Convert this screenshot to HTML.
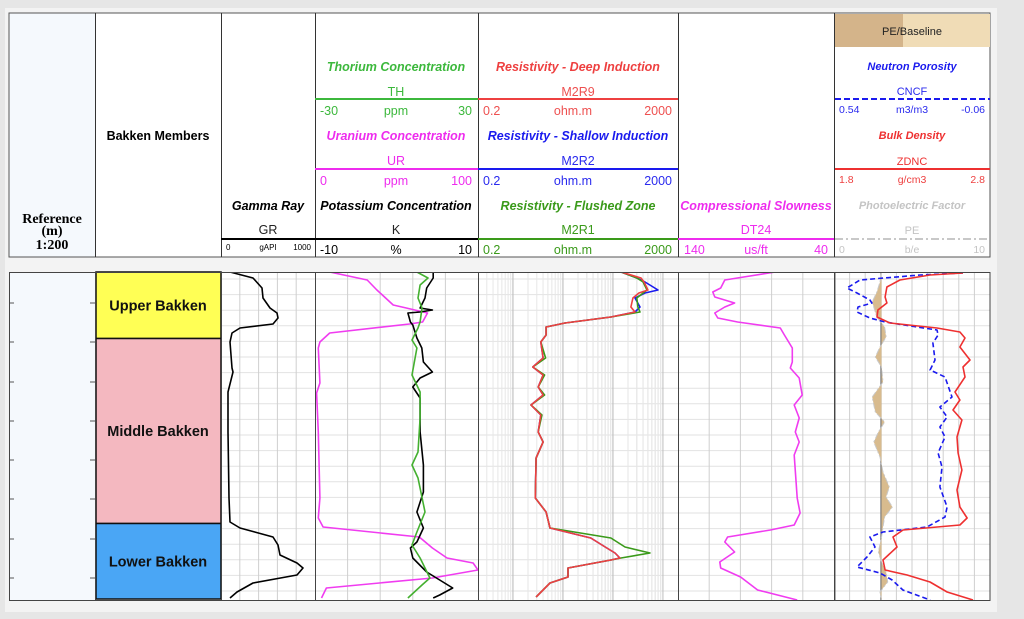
<!DOCTYPE html>
<html><head><meta charset="utf-8">
<style>
html,body{margin:0;padding:0;background:#e6e6e6;}
svg{display:block;font-family:"Liberation Sans",sans-serif;}
.t{font-weight:bold;font-style:italic;font-size:12.5px;text-anchor:middle;}
.m{font-size:12.5px;text-anchor:middle;}
.s{font-size:12.5px;}
</style></head><body>
<svg id="log" width="1024" height="619" viewBox="0 0 1024 619" xmlns="http://www.w3.org/2000/svg">
<rect x="5" y="8" width="992" height="604" fill="#f3f3f3"/>
<!-- header -->
<g>
<rect x="9" y="13" width="981" height="244" fill="#fff" stroke="#555" stroke-width="1"/>
<rect x="9.5" y="13.5" width="86" height="243" fill="#f5f9fd"/>
<g stroke="#333" stroke-width="1">
<line x1="95.5" y1="13" x2="95.5" y2="257"/><line x1="221.5" y1="13" x2="221.5" y2="257"/>
<line x1="315.5" y1="13" x2="315.5" y2="257"/><line x1="478.5" y1="13" x2="478.5" y2="257"/>
<line x1="678.5" y1="13" x2="678.5" y2="257"/><line x1="834.5" y1="13" x2="834.5" y2="257"/>
</g>
<text x="52" y="223" font-family="Liberation Serif,serif" font-weight="bold" font-size="14" text-anchor="middle">Reference</text>
<text x="52" y="235" font-family="Liberation Serif,serif" font-weight="bold" font-size="14" text-anchor="middle">(m)</text>
<text x="52" y="249" font-family="Liberation Serif,serif" font-weight="bold" font-size="14" text-anchor="middle">1:200</text>
<text x="158" y="140" font-weight="bold" font-size="12.5" text-anchor="middle">Bakken Members</text>
<!-- GR -->
<text class="t" x="268" y="210">Gamma Ray</text>
<text class="m" x="268" y="234" fill="#222">GR</text>
<line x1="221" y1="239" x2="315" y2="239" stroke="#000" stroke-width="2"/>
<g font-size="8" fill="#000"><text x="226" y="250">0</text><text x="268" y="250" text-anchor="middle">gAPI</text><text x="311" y="250" text-anchor="end">1000</text></g>
<!-- spectral -->
<text class="t" x="396" y="71" fill="#3cb83c">Thorium Concentration</text>
<text class="m" x="396" y="96" fill="#3cb83c">TH</text>
<line x1="315" y1="99" x2="478" y2="99" stroke="#3cb83c" stroke-width="2"/>
<g class="s" fill="#3cb83c"><text x="320" y="115">-30</text><text x="396" y="115" text-anchor="middle">ppm</text><text x="472" y="115" text-anchor="end">30</text></g>
<text class="t" x="396" y="140" fill="#ee2cee">Uranium Concentration</text>
<text class="m" x="396" y="165" fill="#ee2cee">UR</text>
<line x1="315" y1="169" x2="478" y2="169" stroke="#ee2cee" stroke-width="2"/>
<g class="s" fill="#ee2cee"><text x="320" y="185">0</text><text x="396" y="185" text-anchor="middle">ppm</text><text x="472" y="185" text-anchor="end">100</text></g>
<text class="t" x="396" y="210" fill="#000">Potassium Concentration</text>
<text class="m" x="396" y="234" fill="#222">K</text>
<line x1="315" y1="239" x2="478" y2="239" stroke="#000" stroke-width="2"/>
<g class="s" fill="#000"><text x="320" y="254">-10</text><text x="396" y="254" text-anchor="middle">%</text><text x="472" y="254" text-anchor="end">10</text></g>
<!-- resistivity -->
<text class="t" x="578" y="71" fill="#ee4040">Resistivity - Deep Induction</text>
<text class="m" x="578" y="96" fill="#ee5050">M2R9</text>
<line x1="478" y1="99" x2="678" y2="99" stroke="#ee4040" stroke-width="2"/>
<g class="s" fill="#ee5050"><text x="483" y="115">0.2</text><text x="573" y="115" text-anchor="middle">ohm.m</text><text x="672" y="115" text-anchor="end">2000</text></g>
<text class="t" x="578" y="140" fill="#1a1aee">Resistivity - Shallow Induction</text>
<text class="m" x="578" y="165" fill="#2a2aee">M2R2</text>
<line x1="478" y1="169" x2="678" y2="169" stroke="#1a1aee" stroke-width="2"/>
<g class="s" fill="#2a2aee"><text x="483" y="185">0.2</text><text x="573" y="185" text-anchor="middle">ohm.m</text><text x="672" y="185" text-anchor="end">2000</text></g>
<text class="t" x="578" y="210" fill="#3a9a1a">Resistivity - Flushed Zone</text>
<text class="m" x="578" y="234" fill="#3a9a1a">M2R1</text>
<line x1="478" y1="239" x2="678" y2="239" stroke="#3a9a1a" stroke-width="2"/>
<g class="s" fill="#3a9a1a"><text x="483" y="254">0.2</text><text x="573" y="254" text-anchor="middle">ohm.m</text><text x="672" y="254" text-anchor="end">2000</text></g>
<!-- DT -->
<text class="t" x="756" y="210" fill="#ee2cee">Compressional Slowness</text>
<text class="m" x="756" y="234" fill="#ee2cee">DT24</text>
<line x1="678" y1="239" x2="834" y2="239" stroke="#ee2cee" stroke-width="2"/>
<g class="s" fill="#ee2cee"><text x="684" y="254">140</text><text x="756" y="254" text-anchor="middle">us/ft</text><text x="828" y="254" text-anchor="end">40</text></g>
<!-- PE track header -->
<rect x="835" y="14" width="68" height="33" fill="#d4b48a"/>
<rect x="903" y="14" width="87" height="33" fill="#f0dcb6"/>
<text x="912" y="35" font-size="11" text-anchor="middle" fill="#222">PE/Baseline</text>
<text class="t" x="912" y="70" font-size="11" fill="#1a1aee" style="font-size:11px">Neutron Porosity</text>
<text class="m" x="912" y="95" fill="#2a2aee" style="font-size:11px">CNCF</text>
<line x1="835" y1="99" x2="990" y2="99" stroke="#1a1aee" stroke-width="2" stroke-dasharray="6,3"/>
<g font-size="10.5" fill="#2a2aee"><text x="839" y="113">0.54</text><text x="912" y="113" text-anchor="middle">m3/m3</text><text x="985" y="113" text-anchor="end">-0.06</text></g>
<text class="t" x="912" y="139" fill="#ee3030" style="font-size:11px">Bulk Density</text>
<text class="m" x="912" y="165" fill="#ee3030" style="font-size:11px">ZDNC</text>
<line x1="835" y1="169" x2="990" y2="169" stroke="#ee3030" stroke-width="2"/>
<g font-size="10.5" fill="#ee4040"><text x="839" y="183">1.8</text><text x="912" y="183" text-anchor="middle">g/cm3</text><text x="985" y="183" text-anchor="end">2.8</text></g>
<text class="t" x="912" y="209" fill="#c4c4c4" style="font-size:11px">Photoelectric Factor</text>
<text class="m" x="912" y="234" fill="#c4c4c4" style="font-size:11px">PE</text>
<line x1="835" y1="239" x2="990" y2="239" stroke="#c8c8c8" stroke-width="2" stroke-dasharray="8,3,2,3"/>
<g font-size="10.5" fill="#c4c4c4"><text x="839" y="253">0</text><text x="912" y="253" text-anchor="middle">b/e</text><text x="985" y="253" text-anchor="end">10</text></g>
</g>
<!-- data panel -->
<rect x="9" y="272" width="981" height="329" fill="#fff"/>
<rect x="9.5" y="272.5" width="86" height="328" fill="#f5f9fd"/>
<g id="grid"></g>
<g id="zones"></g>
<g id="curves"></g>
<g fill="none" stroke="#444" stroke-width="1">
<rect x="9.5" y="272.5" width="980.5" height="328"/>
<line x1="95.5" y1="272" x2="95.5" y2="601"/><line x1="221.5" y1="272" x2="221.5" y2="601"/>
<line x1="315.5" y1="272" x2="315.5" y2="601"/><line x1="478.5" y1="272" x2="478.5" y2="601"/>
<line x1="678.5" y1="272" x2="678.5" y2="601"/><line x1="834.5" y1="272" x2="834.5" y2="601"/>
</g>
</svg>
<script>
// depth domain (m offset from top of interval)
const depthTop = 0, depthBottom = 328;
const refTicks = [31, 70, 110, 149, 188, 227, 267, 306];
const zoneNames = ['Upper Bakken','Middle Bakken','Lower Bakken'];
const zoneTops = [0, 66.5, 251.5];
const zoneBases = [66.5, 251.5, 327];
const zoneColors = ['#ffff55','#f4b8c0','#4aa6f5'];

const grDepth = [0,6,16,26,36,41,46,52,56,61,70,96,100,120,160,226,250,256,265,273,283,291,296,303,311,320,326];
const grVal = [86,333,430,441,516,591,602,548,194,108,86,108,118,65,65,75,86,194,548,602,624,806,871,806,333,161,86];

const urDepth = [0,8,18,33,36,41,50,52,61,70,76,111,121,160,226,246,255,265,276,286,291,298,306,316,326];
const urVal = [9,32,38,48,56,69,66,58,9,3,2,3,1,2,3,2,5,64,72,81,97,100,72,7,4];

const kDepth = [0,6,16,26,36,38,40,41,50,53,66,76,90,100,106,115,126,160,193,220,240,256,270,276,286,300,316,323,326];
const kVal = [4.5,4.5,3.7,3.5,2.9,4.4,2.9,1.4,1.7,2.0,2.5,3.1,3.3,4.4,2.9,2.0,2.9,2.9,3.3,3.3,2.5,3.3,2.5,1.7,2.0,3.7,6.9,5.3,4.5];

const thDepth = [0,6,13,26,36,50,56,68,76,103,120,146,180,193,206,240,260,273,286,306,313,326];
const thVal = [7.5,11.6,8.7,7.9,9.4,8.7,7.9,5.7,7.5,5.7,8.7,8.7,7.9,5.7,7.9,10.5,7.5,5.7,8.7,12.3,9.4,4.2];

const resDepth = [0,6,10,18,21,26,35,40,45,51,55,63,70,86,95,103,115,123,133,143,160,170,186,226,240,256,266,275,281,286,288,296,305,311,325];
const m2r2Val = [145,300,438,796,438,276,347,276,91,11,4.6,4.6,3.6,4.0,2.5,4.0,3.2,4.0,2.3,3.6,3.2,4.0,2.9,2.8,4.6,5.5,36,70,110,138,91,12.6,12.6,5.5,2.9];
const m2r9Val = [145,364,420,501,330,251,229,276,91,11,4.6,4.6,3.6,4.0,2.5,4.0,3.2,4.0,2.3,3.6,3.2,4.0,2.9,2.8,4.6,5.5,36,70,110,138,91,12.6,12.6,5.5,2.9];
const m2r1Val = [145,300,400,480,400,300,316,347,91,11,4.6,4.6,3.6,4.5,2.5,4.3,3.2,4.3,2.3,3.8,3.2,4.0,2.9,2.8,4.6,5.5,91,174,552,145,91,12.6,12.6,5.5,2.9];

const dtDepth = [0,8,16,20,25,31,35,41,46,50,56,63,76,90,96,106,123,133,146,160,170,183,226,241,253,258,265,270,280,290,296,305,318,328];
const dtVal = [77.6,110,112.6,117.7,116.4,103.7,110,116.4,114.5,101.8,74.4,71.8,66.7,66.7,68,62.3,60.4,65.5,62.3,64.8,62.3,65.5,63.6,61.7,65.5,80.8,108.2,110,103.7,113.2,112.6,99.9,89,63.6];

const cncfDepth = [1,3,8,16,21,28,31,35,40,46,50,55,58,63,71,88,98,105,125,135,145,155,165,181,195,215,235,245,255,260,265,275,285,295,301,308,318,328];
const cncfVal = [0.045,0.21,0.443,0.494,0.455,0.405,0.397,0.451,0.455,0.405,0.346,0.223,0.145,0.141,0.161,0.153,0.172,0.114,0.087,0.134,0.106,0.134,0.114,0.141,0.126,0.134,0.106,0.114,0.184,0.354,0.405,0.385,0.416,0.455,0.366,0.319,0.277,0.172];

const zdncDepth = [1,3,8,15,25,31,38,45,51,56,60,66,75,88,95,105,120,128,138,148,165,181,198,218,235,246,253,258,265,275,288,298,303,310,320,328];
const zdncVal = [2.626,2.413,2.219,2.135,2.123,2.135,2.077,2.071,2.155,2.458,2.606,2.639,2.606,2.671,2.626,2.639,2.574,2.606,2.561,2.619,2.587,2.594,2.619,2.587,2.606,2.652,2.606,2.239,2.174,2.2,2.11,2.123,2.265,2.413,2.523,2.69];

const peDepth = [0,10,20,30,45,55,65,75,85,95,110,125,140,150,160,170,185,200,215,225,235,245,255,265,280,290,300,310,320,328];
const peVal = [3,2.9,2.7,2.4,2.7,3.2,3.3,2.9,2.6,3,3.1,2.4,2.6,3.2,2.8,2.5,2.9,3.1,3.5,3.3,3.7,3.2,3.1,3,2.8,3,3.3,3.4,2.9,3];
const peBaseline = 3;

const NS = 'http://www.w3.org/2000/svg';
const Y0 = 272, Y1 = 600;
function yOf(d){ return Y0 + (d - depthTop) / (depthBottom - depthTop) * (Y1 - Y0); }
function lin(x0, x1, v0, v1){ return v => x0 + (v - v0) / (v1 - v0) * (x1 - x0); }
function logS(x0, x1, v0, v1){ return v => x0 + (Math.log10(v) - Math.log10(v0)) / (Math.log10(v1) - Math.log10(v0)) * (x1 - x0); }
const xGR = lin(222, 315, 0, 1000);
const xTH = lin(315, 478, -30, 30);
const xUR = lin(315, 478, 0, 100);
const xK = lin(315, 478, -10, 10);
const xRes = logS(478, 678, 0.2, 2000);
const xDT = lin(678, 834, 140, 40);
const xCN = lin(835, 990, 0.54, -0.06);
const xDN = lin(835, 990, 1.8, 2.8);
const xPE = lin(835, 990, 0, 10);

function mk(tag, attrs, parent){ const e = document.createElementNS(NS, tag); for (const k in attrs) e.setAttribute(k, attrs[k]); parent.appendChild(e); return e; }
const grid = document.getElementById('grid');
const zones = document.getElementById('zones');
const curves = document.getElementById('curves');

// horizontal grid
for (let d = 0; d <= depthBottom; d += 15.6) {
  const y = Y0 + 7 + d;
  if (y > 600) break;
  const l = mk('line', {x1:221, x2:990, y1:y, y2:y, stroke:'#e2e2e2', 'stroke-width':1}, grid);
  
  
}
// linear vertical grids
function vgrid(x0, x1, n, name){
  for (let i = 1; i < n; i++) {
    const x = x0 + (x1 - x0) * i / n;
    const l = mk('line', {x1:x, x2:x, y1:272, y2:601, stroke:'#cfcfcf', 'stroke-width':1}, grid);
    
    
  }
}
vgrid(221, 315, 5, 'gr-grid-line');
vgrid(315, 478, 5, 'spectral-grid-line');
vgrid(678, 834, 5, 'dt-grid-line');
vgrid(834, 990, 10, 'pe-track-grid-line');
// log grid
[0.2,2,20,200].forEach((dec, di) => {
  const base = dec === 0.2 ? 0.1 : dec / 2;
  for (let m = 1; m <= 9; m++) {
    const v = (dec === 0.2 ? 0.1 : Math.pow(10, di - 1)) * m;
    if (v <= 0.2 || v >= 2000) continue;
    const x = xRes(v);
    const l = mk('line', {x1:x, x2:x, y1:272, y2:601, stroke: m === 1 ? '#bdbdbd' : '#e6e6e6', 'stroke-width':1}, grid);
    
    
  }
});
[10,100,1000].forEach(dec => { for (let m = 2; m <= 9; m++) {
  const v = dec * m; if (v >= 2000) continue;
  const x = xRes(v);
  const l = mk('line', {x1:x, x2:x, y1:272, y2:601, stroke:'#e6e6e6', 'stroke-width':1}, grid);
  
  
}});
[1,10,100,1000].forEach(v => {
  const x = xRes(v);
  const l = mk('line', {x1:x, x2:x, y1:272, y2:601, stroke:'#bdbdbd', 'stroke-width':1}, grid);
  
  
});
// dark vertical lines in PE track
[835, 881].forEach(x => {
  const l = mk('line', {x1:x, x2:x, y1:272, y2:601, stroke:'#777', 'stroke-width':1.2}, grid);
  
  
});
// reference ticks
refTicks.forEach(d => {
  const y = yOf(d);
  const a = mk('line', {x1:9, x2:14, y1:y, y2:y, stroke:'#555', 'stroke-width':1}, grid);
  
  
  const b = mk('line', {x1:90, x2:95, y1:y, y2:y, stroke:'#555', 'stroke-width':1}, grid);
  
  
});
// zones
zoneNames.forEach((nm, i) => {
  const y0 = yOf(zoneTops[i]), y1 = yOf(zoneBases[i]);
  const r = mk('rect', {x:96, y:y0, width:125, height:y1 - y0, fill:zoneColors[i], stroke:'#111', 'stroke-width':1.5}, zones);
  
  
  const t = mk('text', {x:158, y:(y0 + y1) / 2 + 5, 'text-anchor':'middle', 'font-weight':'bold', 'font-size':'14.5', fill:'#111'}, zones);
  t.textContent = nm;
  
  
});
// clip paths
const defs = mk('defs', {}, document.getElementById('log'));
function clip(id, x0, x1){ const c = mk('clipPath', {id:id}, defs); mk('rect', {x:x0, y:272, width:x1 - x0, height:329}, c); }
clip('cGR', 222, 315); clip('cSP', 316, 478); clip('cRS', 479, 678); clip('cDT', 679, 834); clip('cPE', 835, 990);
function pts(depths, vals, xf){ return depths.map((d, i) => xf(vals[i]).toFixed(1) + ',' + yOf(d).toFixed(1)).join(' '); }
function curve(depths, vals, xf, color, w, clipId, dash){
  const p = mk('polyline', {points:pts(depths, vals, xf), fill:'none', stroke:color, 'stroke-width':w, 'stroke-linejoin':'round', 'clip-path':'url(#' + clipId + ')'}, curves);
  if (dash) p.setAttribute('stroke-dasharray', dash);
  return p;
}
// PE fill
{
  const xb = xPE(peBaseline);
  const poly = xb + ',' + yOf(peDepth[0]) + ' ' + pts(peDepth, peVal, xPE) + ' ' + xb + ',' + yOf(peDepth[peDepth.length - 1]);
  const f = mk('polygon', {points:poly, fill:'#d8bb8e', stroke:'none', 'clip-path':'url(#cPE)'}, curves);
  
  
}
let c;
c = curve(peDepth, peVal, xPE, '#c8c8c8', 1, 'cPE', '6,2,2,2');


c = curve(grDepth, grVal, xGR, '#000', 1.6, 'cGR');


c = curve(urDepth, urVal, xUR, '#f03cf0', 1.6, 'cSP');


c = curve(kDepth, kVal, xK, '#000', 1.6, 'cSP');


c = curve(thDepth, thVal, xTH, '#44b030', 1.6, 'cSP');


c = curve(resDepth, m2r2Val, xRes, '#1a1aee', 1.6, 'cRS');


c = curve(resDepth, m2r1Val, xRes, '#3a9a1a', 1.6, 'cRS');


c = curve(resDepth, m2r9Val, xRes, '#ee4040', 1.6, 'cRS');


c = curve(dtDepth, dtVal, xDT, '#f03cf0', 1.6, 'cDT');


c = curve(cncfDepth, cncfVal, xCN, '#1a1aee', 1.6, 'cPE', '5,3');


c = curve(zdncDepth, zdncVal, xDN, '#ee3030', 1.6, 'cPE');


</script>
</body></html>
